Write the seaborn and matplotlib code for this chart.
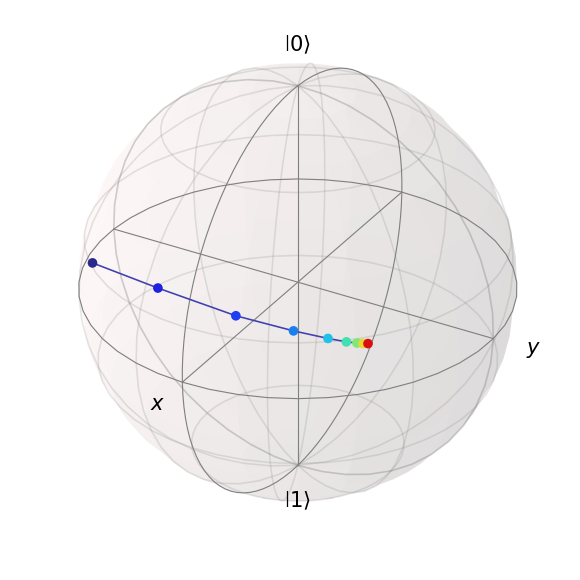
import numpy as np
import matplotlib
matplotlib.use("Agg")
import matplotlib.pyplot as plt
from matplotlib.colors import LightSource
import seaborn as sns

# state vector points on the bloch sphere
point_x = [0.32, 0.365, 0.40, 0.385, 0.365, 0.35, 0.335, 0.325, 0.315]
point_y = [-0.91, -0.525, -0.09, 0.20, 0.365, 0.45, 0.495, 0.52, 0.54]
point_z = [0.0, 0.0, 0.0, 0.0, 0.0, 0.0, 0.0, 0.0, 0.0]
point_colors = ["#2a2a8a", "#2020e0", "#1f3ff0", "#1a80f0", "#20c0e8",
                "#40e0b0", "#80e878", "#e8d830", "#d81010"]

sns.set_style("white")
frame_color = "gray"
sphere_color = "#FFDDDD"
light = LightSource(azdeg=150, altdeg=20)

fig = plt.figure(figsize=(5, 5), dpi=116)
ax = fig.add_axes([0, 0, 1, 1], projection="3d")
ax.computed_zorder = False
ax.view_init(elev=30, azim=30)
ax.set_box_aspect((1, 1, 1), zoom=1.65)
ax.set_axis_off()


def draw_half(u):
    v = np.linspace(0, np.pi, 25)
    x = np.outer(np.cos(u), np.sin(v))
    y = np.outer(np.sin(u), np.sin(v))
    z = np.outer(np.ones(u.size), np.cos(v))
    ax.plot_surface(x, y, z, rstride=2, cstride=2, color=sphere_color, linewidth=0,
                    alpha=0.1, lightsource=light)
    ax.plot_wireframe(x, y, z, rstride=5, cstride=5, color=frame_color, alpha=0.2, lw=1)
    # equator and meridian
    ax.plot(np.cos(u), np.sin(u), zs=0, zdir="z", lw=0.7, color=frame_color)


# back half first, then front
draw_half(np.linspace(np.pi / 2, 3 * np.pi / 2, 25))
draw_half(np.linspace(-np.pi / 2, np.pi / 2, 25))

# meridian through the poles and x
t = np.linspace(0, 2 * np.pi, 97)
ax.plot(np.cos(t), np.sin(t), zs=0, zdir="y", lw=0.7, color=frame_color)

# axes lines
span = np.linspace(-1, 1, 2)
ax.plot(span, 0 * span, zs=0, zdir="z", lw=0.7, color=frame_color)
ax.plot(0 * span, span, zs=0, zdir="z", lw=0.7, color=frame_color)
ax.plot(0 * span, span, zs=0, zdir="y", lw=0.7, color=frame_color)

# the line and its points, points on top of the line
colors = sns.color_palette(point_colors)
ax.plot(point_x, point_y, point_z, color="#4040b0", lw=1.0)
ax.scatter(point_x, point_y, point_z, c=colors, s=36, alpha=1, depthshade=False,
           edgecolor="none", zorder=5)

ax.set_xlim3d(-1.3, 1.3)
ax.set_ylim3d(-1.3, 1.3)
ax.set_zlim3d(-1.3, 1.3)

# labels
ax.text(1.2, 0, 0, r"$x$", fontsize=13, ha="center", va="center", color="black")
ax.text(0, 1.2, 0, r"$y$", fontsize=13, ha="center", va="center", color="black")
ax.text(0, 0, 1.2, r"$\left|0\right>$", fontsize=13, ha="center", va="center", color="black")
ax.text(0, 0, -1.2, r"$\left|1\right>$", fontsize=13, ha="center", va="center", color="black")

fig.savefig("out.png", dpi=116)
